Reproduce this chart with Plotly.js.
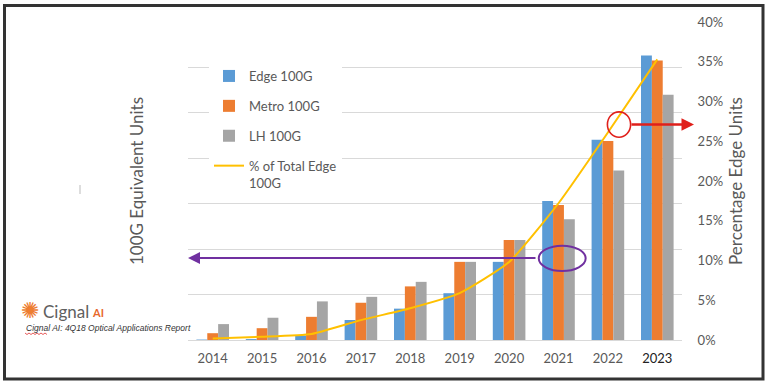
<!DOCTYPE html>
<html><head><meta charset="utf-8">
<script src="https://cdn.plot.ly/plotly-3.0.1.min.js"></script>
<style>html,body{margin:0;padding:0;background:#fff}#chart{width:768px;height:385px}</style>
</head><body><div id="chart"></div>
<script>
// ---- data ----
const years = ['2014','2015','2016','2017','2018','2019','2020','2021','2022','2023'];
const edge100G  = [1, 2, 10, 44, 69, 103, 172, 306, 441, 626];
const metro100G = [15, 26, 51, 82, 118, 172, 220, 297, 438, 615];
const lh100G    = [35, 49, 85, 95, 128, 172, 220, 266, 373, 540];
const pctEdge   = [0.002, 0.004, 0.0075, 0.025, 0.040, 0.059, 0.098, 0.172, 0.261, 0.353];
const seriesNames = ['Edge 100G', 'Metro 100G', 'LH 100G', '% of Total Edge<br>100G'];

// ---- layout helpers (pixel -> paper) ----
const L = 188, R = 682, T = 22, B = 340;
const px = x => (x - L) / (R - L);
const py = y => (B - y) / (B - T);
const grey = '#595959';
const F = 'Lato, "Open Sans", sans-serif';

const traces = [
  {type:'bar', x:years, y:edge100G, name:seriesNames[0], marker:{color:'#5B9BD5'}, legendgroup:'a'},
  {type:'bar', x:years, y:metro100G, name:seriesNames[1], marker:{color:'#ED7D31'}, legendgroup:'b'},
  {type:'bar', x:years, y:lh100G, name:seriesNames[2], marker:{color:'#A5A5A5'}, legendgroup:'c'},
  {type:'scatter', mode:'lines', x:years, y:pctEdge, yaxis:'y2', name:seriesNames[3],
   line:{color:'#FFC000', width:2, shape:'spline', smoothing:0.5}, legendgroup:'d'}
];

const tickText = years.map(y => y === '2023' ? '<span style="color:#222">' + y + '</span>' : y);

const layout = {
  width:768, height:385,
  margin:{l:L, r:768-R, t:T, b:385-B},
  paper_bgcolor:'#fff', plot_bgcolor:'#fff',
  font:{family:F, color:grey, size:13},
  barmode:'group', bargap:0.34, bargroupgap:0,
  showlegend:true,
  legend:{x:px(209), y:py(61), xanchor:'left', yanchor:'top', bgcolor:'#fff',
          font:{family:F, size:13, color:grey}, traceorder:'grouped', tracegroupgap:10,
          valign:'top', itemwidth:30},
  xaxis:{type:'category', showgrid:false, zeroline:false, showline:false,
         tickvals:years, ticktext:tickText,
         ticks:'outside', ticklen:6, tickcolor:'rgba(0,0,0,0)',
         tickfont:{family:F, size:13, color:grey}},
  yaxis:{range:[0,700], dtick:100, showticklabels:false, ticks:'',
         gridcolor:'#D9D9D9', zeroline:true, zerolinecolor:'#D9D9D9', zerolinewidth:1,
         title:{text:'100G Equivalent Units', font:{family:F, size:17, color:grey}, standoff:39}},
  yaxis2:{overlaying:'y', side:'right', range:[0,0.4], dtick:0.05, tickformat:'.0%',
          showgrid:false, zeroline:false, ticks:'outside', ticklen:12, tickcolor:'rgba(0,0,0,0)',
          tickfont:{family:F, size:13, color:grey},
          title:{text:'Percentage Edge Units', font:{family:F, size:17, color:grey}, standoff:8}},
  shapes:[
    // outer frame
    {type:'rect', xref:'paper', yref:'paper', x0:px(4.5), x1:px(763), y0:py(379), y1:py(5.5),
     line:{color:'#333', width:3}, fillcolor:'rgba(0,0,0,0)'},
    // red circle
    {type:'circle', xref:'x', yref:'y2', x0:7.99, x1:8.46, y0:0.255, y1:0.287,
     line:{color:'#E0201B', width:1.6}},
    // purple ellipse
    {type:'circle', xref:'x', yref:'y2', x0:6.6, x1:7.55, y0:0.0868, y1:0.1187,
     line:{color:'#7030A0', width:2}},
    // small grey mark
    {type:'line', xref:'paper', yref:'paper', x0:px(80), x1:px(80), y0:py(185), y1:py(194),
     line:{color:'#bbb', width:1}},
    // red spell-check squiggle under "Cignal"
    {type:'path', xref:'paper', yref:'paper',
     path:'M' + [[25,333],[27,334.5],[29,333],[31,334.5],[33,333],[35,334.5],[37,333],[39,334.5],[41,333],[43,334.5],[45,333],[47,334.5]]
       .map(p => px(p[0]) + ',' + py(p[1])).join(' L'),
     line:{color:'#E03030', width:0.8}}
  ],
  annotations:[
    {xref:'paper', yref:'y2', x:px(694), y:0.271, ax:-64, ay:0, text:'', showarrow:true,
     arrowhead:2, arrowsize:1, arrowwidth:2.5, arrowcolor:'#E0201B'},
    {xref:'paper', yref:'y2', x:0, y:0.103, ax:349, ay:0, text:'', showarrow:true,
     arrowhead:2, arrowsize:1.2, arrowwidth:2, arrowcolor:'#7030A0'},
    {xref:'paper', yref:'paper', x:px(30), y:py(310), xanchor:'center', yanchor:'middle', text:'✺', showarrow:false,
     font:{family:'DejaVu Sans', size:22, color:'#ED7D31'}},
    {xref:'paper', yref:'paper', x:px(41), y:py(311), xanchor:'left', yanchor:'middle', text:'Cignal', showarrow:false,
     font:{family:F, size:17, color:'#606060'}},
    {xref:'paper', yref:'paper', x:px(90), y:py(312.5), xanchor:'left', yanchor:'middle', text:'<b>AI</b>', showarrow:false,
     font:{family:F, size:11, color:'#E8692B'}},
    {xref:'paper', yref:'paper', x:px(24), y:py(328), xanchor:'left', yanchor:'middle', text:'<i>Cignal AI: 4Q18 Optical Applications Report</i>', showarrow:false,
     font:{family:'Liberation Sans', size:8.5, color:'#333'}}
  ]
};

Plotly.newPlot('chart', traces, layout, {displayModeBar:false, staticPlot:true});
</script></body></html>
